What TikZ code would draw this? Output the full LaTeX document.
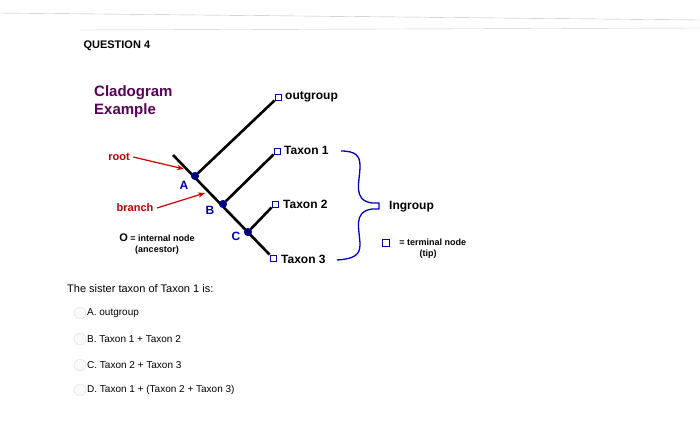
\documentclass[tikz,border=0pt]{standalone}
\usepackage{fontspec}
\setmainfont{Liberation Sans}
\usetikzlibrary{arrows.meta}
\begin{document}
\begin{tikzpicture}[x=1pt,y=-1pt,
  tip/.style={draw=blue!70!black,line width=0.9pt,minimum size=6pt,inner sep=0pt},
  inode/.style={circle,draw=blue!70!black,fill=blue!40!black,line width=0.8pt,minimum size=7pt,inner sep=0pt},
  br/.style={line width=2.6pt,black},
  lbl/.style={font=\bfseries\fontsize{12}{14}\selectfont,anchor=west,inner sep=0pt},
  red/.style={-{Stealth[length=7pt]},red!80!black,line width=1.2pt},
  opt/.style={anchor=west,font=\fontsize{10}{12}\selectfont,inner sep=0pt}]
\useasboundingbox (0,0) rectangle (700,421);
\fill[white] (0,0) rectangle (700,421);
\draw[gray!50] (0,13) -- (700,20);
\draw[gray!40] (80,30) -- (700,28);
\node[anchor=west,font=\bfseries\fontsize{11}{13}\selectfont] (q) at (80,46) {QUESTION 4};
\node[anchor=north west,align=left,font=\bfseries\fontsize{15}{18}\selectfont,text=violet!70!black,inner sep=0pt] (title) at (94,85) {Cladogram\\Example};
\coordinate (r) at (173,155);
\node[tip] (t0) at (278,97) {};
\node[tip] (t1) at (277,151) {};
\node[tip] (t2) at (275,204) {};
\node[tip] (t3) at (273,258) {};
\draw[br] (r) -- (t3.north west);
\node[inode] (A) at (195,176) {};
\node[inode] (B) at (223,204) {};
\node[inode] (C) at (248,232) {};
\draw[br] (A) -- (t0.south west);
\draw[br] (B) -- (t1.south west);
\draw[br] (C) -- (t2.south west);
\node[inode] at (A) {};\node[inode] at (B) {};\node[inode] at (C) {};
\node[lbl] (l0) at (285,97) {outgroup};
\node[lbl] (l1) at (284,150) {Taxon 1};
\node[lbl] (l2) at (283,204) {Taxon 2};
\node[lbl] (l3) at (281,259) {Taxon 3};
\node[font=\bfseries\fontsize{12}{14}\selectfont,text=blue!70!black] (la) at (184,185) {A};
\node[font=\bfseries\fontsize{12}{14}\selectfont,text=blue!70!black] (lb) at (210,210) {B};
\node[font=\bfseries\fontsize{12}{14}\selectfont,text=blue!70!black] (lc) at (236,236) {C};
\node[font=\bfseries\fontsize{11}{13}\selectfont,text=red!75!black] (root) at (119,157) {root};
\node[font=\bfseries\fontsize{11}{13}\selectfont,text=red!75!black] (branch) at (135,208) {branch};
\coordinate (ra) at (184,169);
\coordinate (ba) at (205,193);
\draw[red] (root.east) -- (ra);
\draw[red] (branch.east) -- (ba);
\draw[blue!80!black,line width=1.3pt] (341,151) .. controls (356,151) and (360,156) .. (360,166)
  .. controls (360,182) and (352,200) .. (372,203) -- (379,203) -- (379,209) -- (372,209)
  .. controls (352,212) and (360,230) .. (360,245) .. controls (360,256) and (352,259) .. (337,260);
\node[lbl] (ing) at (389,207) {Ingroup};
\node[align=center,font=\bfseries\fontsize{9}{11}\selectfont,inner sep=0pt] (leg1) at (157,244) {{\fontsize{11}{11}\selectfont O} = internal node\\(ancestor)};
\node[align=center,font=\bfseries\fontsize{9}{11}\selectfont,inner sep=0pt] (leg2) at (428,249) {\hphantom{O} = terminal node\\(tip)};
\node[tip,minimum size=7pt] (sq) at (386,243) {};
\node[opt,font=\fontsize{11}{13}\selectfont] (qt) at (67,289) {The sister taxon of Taxon 1 is:};
\foreach \y/\t [count=\i] in {313/A. outgroup,339/B. Taxon 1 + Taxon 2,365/C. Taxon 2 + Taxon 3,390/D. Taxon 1 + (Taxon 2 + Taxon 3)}{
  \draw[gray!25,fill=gray!5] (80,\y) circle (6);
  \node[opt] (o\i) at (87,\y) {\t};
}
\end{tikzpicture}
\end{document}
